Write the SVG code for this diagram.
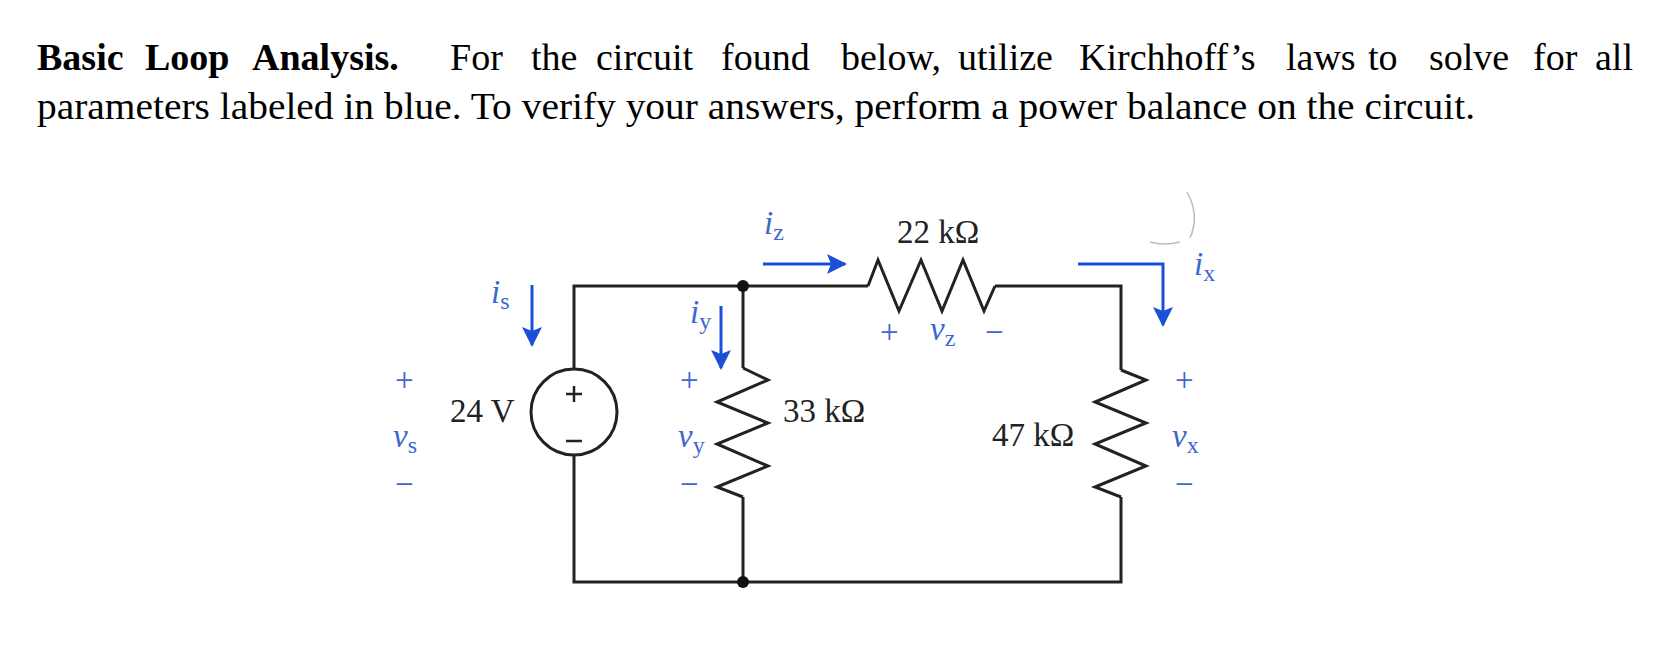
<svg xmlns="http://www.w3.org/2000/svg" width="1662" height="648" viewBox="0 0 1662 648">
<style>
.w{fill:none;stroke:#222;stroke-width:3;stroke-linejoin:miter}
.a{fill:none;stroke:#1a4fd6;stroke-width:3}
.t{font-family:"Liberation Serif",serif;fill:#000;font-size:38px}
.v{font-family:"Liberation Serif",serif;fill:#222;font-size:33px}
.b{font-family:"Liberation Serif",serif;fill:#3d66d0;font-size:33px}
.bi{font-style:italic}
.sub{font-size:24px;font-style:normal}
</style>
<defs>
<marker id="ah2" viewBox="0 0 10 10" refX="9" refY="5" markerWidth="20" markerHeight="20" orient="auto" markerUnits="userSpaceOnUse">
<path d="M0,0 L10,5 L0,10 L2,5 Z" fill="#1a4fd6"/>
</marker>
</defs>
<rect width="1662" height="648" fill="#fff"/>
<text class="t" y="70"><tspan font-weight="bold" x="37">Basic</tspan><tspan font-weight="bold" x="145">Loop</tspan><tspan font-weight="bold" x="252">Analysis.</tspan><tspan x="450">For</tspan><tspan x="531">the</tspan><tspan x="596">circuit</tspan><tspan x="721">found</tspan><tspan x="841">below,</tspan><tspan x="958">utilize</tspan><tspan x="1079">Kirchhoff’s</tspan><tspan x="1286">laws</tspan><tspan x="1368">to</tspan><tspan x="1429">solve</tspan><tspan x="1533">for</tspan><tspan x="1595">all</tspan></text>
<text class="t" x="37" y="119" textLength="1438" lengthAdjust="spacingAndGlyphs">parameters labeled in blue.  To verify your answers, perform a power balance on the circuit.</text>
<g id="wires">
<path class="w" d="M574,369 V286 H868"/>
<path class="w" d="M574,455 V582 H1121 V497"/>
<path class="w" d="M743,286 V368"/>
<path class="w" d="M743,497 V582"/>
<path class="w" d="M995,286 H1121 V370"/>
</g>
<g id="vs">
<circle cx="574" cy="412" r="43" fill="none" stroke="#222" stroke-width="3"/>
<path d="M566,394 H582 M574,386 V402 M566,441 H582" stroke="#222" stroke-width="2.5"/>
<text class="v" x="450" y="422">24 V</text>
</g>
<g id="r33">
<path class="w" d="M743,368 L768,380 L717,402 L768,423 L717,444 L768,466 L717,487 L743,497"/>
<text class="v" x="783" y="422">33 kΩ</text>
</g>
<g id="r22">
<path class="w" d="M868,286 L878,260 L899,311 L921,260 L942,311 L963,260 L984,311 L995,286"/>
<text class="v" x="897" y="243">22 kΩ</text>
</g>
<g id="r47">
<path class="w" d="M1121,370 L1146,380 L1095,402 L1146,423 L1095,444 L1146,466 L1095,487 L1121,497"/>
<text class="v" x="992" y="446">47 kΩ</text>
</g>
<g id="nodes">
<circle cx="743" cy="286" r="6" fill="#111"/>
<circle cx="743" cy="582" r="6" fill="#111"/>
</g>
<g id="connectors">
<path class="a" d="M532,285 V345" marker-end="url(#ah2)"/>
<path class="a" d="M721,306 V368" marker-end="url(#ah2)"/>
<path class="a" d="M763,264 H845" marker-end="url(#ah2)"/>
<path class="a" d="M1078,264 H1163 V325" marker-end="url(#ah2)"/>
</g>
<g id="labels">
<text class="b bi" x="491" y="303">i<tspan class="sub" dy="6">s</tspan></text>
<text class="b bi" x="690" y="323">i<tspan class="sub" dy="6">y</tspan></text>
<text class="b bi" x="764" y="234">i<tspan class="sub" dy="6">z</tspan></text>
<text class="b bi" x="1194" y="275">i<tspan class="sub" dy="6">x</tspan></text>
<text class="b" x="395" y="391">+</text>
<text class="b bi" x="393" y="447">v<tspan class="sub" dy="6">s</tspan></text>
<text class="b" x="395" y="495">−</text>
<text class="b" x="680" y="391">+</text>
<text class="b bi" x="678" y="447">v<tspan class="sub" dy="6">y</tspan></text>
<text class="b" x="680" y="495">−</text>
<text class="b" x="880" y="343">+</text>
<text class="b bi" x="930" y="340">v<tspan class="sub" dy="6">z</tspan></text>
<text class="b" x="985" y="343">−</text>
<text class="b" x="1175" y="391">+</text>
<text class="b bi" x="1172" y="447">v<tspan class="sub" dy="6">x</tspan></text>
<text class="b" x="1175" y="495">−</text>
</g>
<path d="M1187,192 Q1200,215 1190,238 M1150,242 Q1165,246 1180,242" fill="none" stroke="#bbb" stroke-width="1.5"/>
</svg>
